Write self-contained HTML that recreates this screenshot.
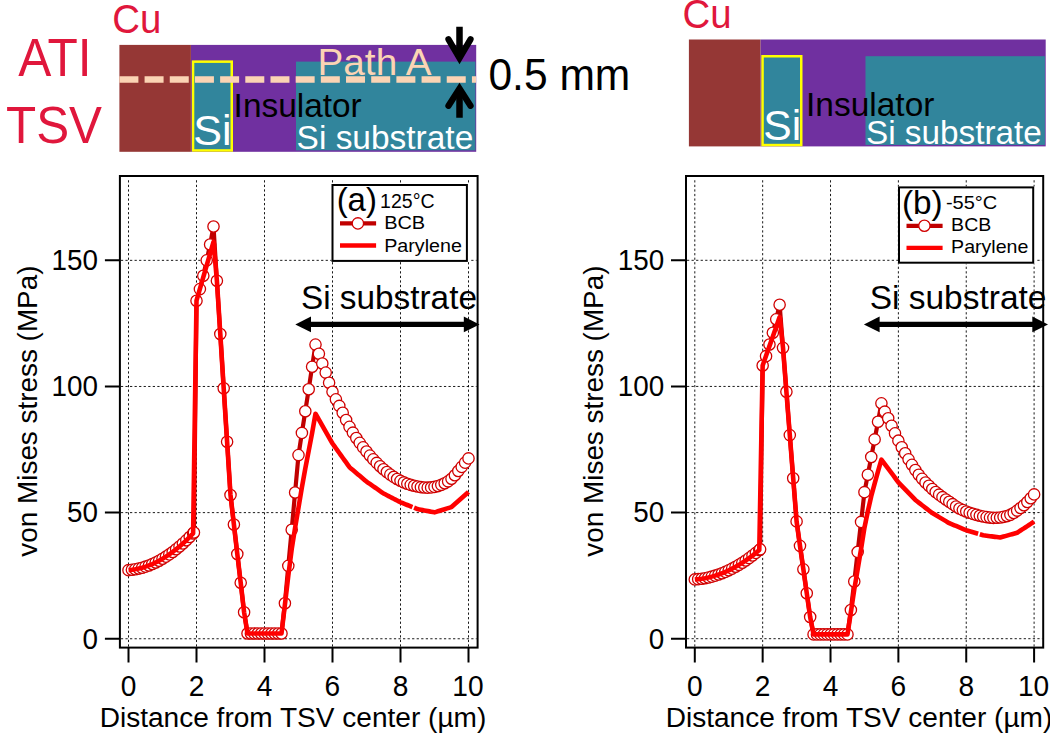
<!DOCTYPE html>
<html><head><meta charset="utf-8"><style>
html,body{margin:0;padding:0;background:#fff;width:1050px;height:737px;overflow:hidden}
svg{display:block}
text{font-family:"Liberation Sans", sans-serif}
</style></head><body>
<svg width="1050" height="737" viewBox="0 0 1050 737" font-family='"Liberation Sans", sans-serif'>
<rect x="190.9" y="44.9" width="285.3" height="106.9" fill="#7030a0"/>
<rect x="296.0" y="61.6" width="179.4" height="88.7" fill="#31859c"/>
<rect x="119.4" y="44.9" width="71.5" height="106.9" fill="#953735"/>
<rect x="193.05" y="61.65" width="38.7" height="88.8" fill="#31859c" stroke="#ffff00" stroke-width="2.5"/>
<rect x="760.4" y="39.5" width="285.3" height="106.9" fill="#7030a0"/>
<rect x="865.5" y="56.2" width="179.4" height="88.7" fill="#31859c"/>
<rect x="688.9" y="39.5" width="71.5" height="106.9" fill="#953735"/>
<rect x="762.55" y="56.25" width="38.7" height="88.8" fill="#31859c" stroke="#ffff00" stroke-width="2.5"/>
<line x1="119.4" x2="476" y1="79.45" y2="79.45" stroke="#fbd4b4" stroke-width="6.4" stroke-dasharray="19 6.18"/>
<text transform="translate(18.18 76.4) scale(0.9292 1)" font-size="53.38" fill="#e0173c">ATI</text>
<text transform="translate(5.99 143.48) scale(0.9444 1)" font-size="52.3" fill="#e0173c">TSV</text>
<text transform="translate(112.18 33.0) scale(0.9558 1)" font-size="40.14" fill="#e0173c">Cu</text>
<text transform="translate(682.48 27.6) scale(0.9558 1)" font-size="40.14" fill="#e0173c">Cu</text>
<text transform="translate(317.5 74.63) scale(1.0431 1)" font-size="37.14" fill="#fbd4b4">Path A</text>
<text transform="translate(233.61 116.57) scale(1.0272 1)" font-size="32.52" fill="#000">Insulator</text>
<text transform="translate(806.0 116.27) scale(1.0305 1)" font-size="32.52" fill="#000">Insulator</text>
<text transform="translate(193.26 145.37) scale(1.0116 1)" font-size="42.72" fill="#fff">Si</text>
<text transform="translate(763.28 140.07) scale(0.9901 1)" font-size="43.13" fill="#fff">Si</text>
<text transform="translate(296.59 149.27) scale(1.0166 1)" font-size="32.93" fill="#fff">Si substrate</text>
<text transform="translate(866.0 143.57) scale(1.0036 1)" font-size="33.2" fill="#fff">Si substrate</text>
<text transform="translate(488.4 89.56) scale(0.9654 1)" font-size="44.1" fill="#000">0.5 mm</text>
<path d="M448.5 39.3L459.5 58.1L470.5 39.3M448.5 105.8L459.5 88.6L470.5 105.8" stroke="#000" stroke-width="6.3" stroke-linecap="round" stroke-linejoin="miter" stroke-miterlimit="10" fill="none"/>
<path d="M459.5 26.8V56M459.5 117.7V91" stroke="#000" stroke-width="6.5" stroke-linecap="butt" fill="none"/>
<path d="M128.5 646.6V178.0M196.5 646.6V178.0M264.5 646.6V178.0M332.5 646.6V178.0M400.5 646.6V178.0M468.5 646.6V178.0" stroke="#000" stroke-width="0.9" stroke-dasharray="2.25 2.3" fill="none"/>
<path d="M120.9 638.75H476.6M120.9 512.62H476.6M120.9 386.48H476.6M120.9 260.35H476.6" stroke="#000" stroke-width="0.9" stroke-dasharray="2.25 2.3" fill="none"/>
<polyline points="128.5,570.13 131.9,569.79 135.3,569.27 138.7,568.58 142.1,567.71 145.5,566.66 148.9,565.44 152.3,564.04 155.7,562.46 159.1,560.71 162.5,558.78 165.9,556.67 169.3,554.39 172.7,551.93 176.1,549.3 179.5,546.48 182.9,543.49 186.3,540.33 189.7,536.98 193.1,533.47 193.95,532.56 196.5,300.71 199.9,289.1 203.3,275.73 206.7,260.35 210.1,244.45 213.5,226.54 216.9,280.78 220.3,334.01 223.7,388.25 227.1,441.73 230.5,494.96 233.9,524.47 237.3,553.99 240.7,582.75 244.1,612.26 247.5,633.45 250.9,633.45 254.3,633.45 257.7,633.45 261.1,633.45 264.5,633.45 267.9,633.45 271.3,633.45 274.7,633.45 278.1,633.45 281.5,633.45 284.9,603.18 288.3,565.84 291.7,529.77 295.1,492.43 298.5,455.1 301.9,432.9 305.3,411.2 308.7,389.25 312.1,366.8 315.5,344.6 318.9,353.68 322.3,363.52 325.7,372.61 329.1,382.7 332.5,391.78 335.9,399.35 339.3,405.9 342.7,412.72 346.1,420.03 349.5,426.84 352.9,432.66 356.3,437.96 359.7,442.87 363.1,447.36 366.5,451.57 369.9,455.58 373.3,459.36 376.7,462.89 380.1,466.18 383.5,469.22 386.9,472.03 390.3,474.59 393.7,476.92 397.1,479.0 400.5,480.83 403.9,482.39 407.3,483.73 410.7,484.87 414.1,485.81 417.5,486.56 420.9,487.14 424.3,487.53 427.7,487.64 431.1,487.42 434.5,486.88 437.9,486.08 441.3,484.87 444.7,483.28 448.1,481.37 451.5,478.81 454.9,475.26 458.3,471.07 461.7,466.9 465.1,462.65 468.5,458.38" fill="none" stroke="#c00000" stroke-width="4.2" stroke-linejoin="round"/>
<g fill="#fff" stroke="#d00000" stroke-width="1.3"><circle cx="128.5" cy="570.13" r="5.65"/><circle cx="131.9" cy="569.79" r="5.65"/><circle cx="135.3" cy="569.27" r="5.65"/><circle cx="138.7" cy="568.58" r="5.65"/><circle cx="142.1" cy="567.71" r="5.65"/><circle cx="145.5" cy="566.66" r="5.65"/><circle cx="148.9" cy="565.44" r="5.65"/><circle cx="152.3" cy="564.04" r="5.65"/><circle cx="155.7" cy="562.46" r="5.65"/><circle cx="159.1" cy="560.71" r="5.65"/><circle cx="162.5" cy="558.78" r="5.65"/><circle cx="165.9" cy="556.67" r="5.65"/><circle cx="169.3" cy="554.39" r="5.65"/><circle cx="172.7" cy="551.93" r="5.65"/><circle cx="176.1" cy="549.3" r="5.65"/><circle cx="179.5" cy="546.48" r="5.65"/><circle cx="182.9" cy="543.49" r="5.65"/><circle cx="186.3" cy="540.33" r="5.65"/><circle cx="189.7" cy="536.98" r="5.65"/><circle cx="193.1" cy="533.47" r="5.65"/><circle cx="193.95" cy="532.56" r="5.65"/><circle cx="196.5" cy="300.71" r="5.65"/><circle cx="199.9" cy="289.1" r="5.65"/><circle cx="203.3" cy="275.73" r="5.65"/><circle cx="206.7" cy="260.35" r="5.65"/><circle cx="210.1" cy="244.45" r="5.65"/><circle cx="213.5" cy="226.54" r="5.65"/><circle cx="216.9" cy="280.78" r="5.65"/><circle cx="220.3" cy="334.01" r="5.65"/><circle cx="223.7" cy="388.25" r="5.65"/><circle cx="227.1" cy="441.73" r="5.65"/><circle cx="230.5" cy="494.96" r="5.65"/><circle cx="233.9" cy="524.47" r="5.65"/><circle cx="237.3" cy="553.99" r="5.65"/><circle cx="240.7" cy="582.75" r="5.65"/><circle cx="244.1" cy="612.26" r="5.65"/><circle cx="247.5" cy="633.45" r="5.65"/><circle cx="250.9" cy="633.45" r="5.65"/><circle cx="254.3" cy="633.45" r="5.65"/><circle cx="257.7" cy="633.45" r="5.65"/><circle cx="261.1" cy="633.45" r="5.65"/><circle cx="264.5" cy="633.45" r="5.65"/><circle cx="267.9" cy="633.45" r="5.65"/><circle cx="271.3" cy="633.45" r="5.65"/><circle cx="274.7" cy="633.45" r="5.65"/><circle cx="278.1" cy="633.45" r="5.65"/><circle cx="281.5" cy="633.45" r="5.65"/><circle cx="284.9" cy="603.18" r="5.65"/><circle cx="288.3" cy="565.84" r="5.65"/><circle cx="291.7" cy="529.77" r="5.65"/><circle cx="295.1" cy="492.43" r="5.65"/><circle cx="298.5" cy="455.1" r="5.65"/><circle cx="301.9" cy="432.9" r="5.65"/><circle cx="305.3" cy="411.2" r="5.65"/><circle cx="308.7" cy="389.25" r="5.65"/><circle cx="312.1" cy="366.8" r="5.65"/><circle cx="315.5" cy="344.6" r="5.65"/><circle cx="318.9" cy="353.68" r="5.65"/><circle cx="322.3" cy="363.52" r="5.65"/><circle cx="325.7" cy="372.61" r="5.65"/><circle cx="329.1" cy="382.7" r="5.65"/><circle cx="332.5" cy="391.78" r="5.65"/><circle cx="335.9" cy="399.35" r="5.65"/><circle cx="339.3" cy="405.9" r="5.65"/><circle cx="342.7" cy="412.72" r="5.65"/><circle cx="346.1" cy="420.03" r="5.65"/><circle cx="349.5" cy="426.84" r="5.65"/><circle cx="352.9" cy="432.66" r="5.65"/><circle cx="356.3" cy="437.96" r="5.65"/><circle cx="359.7" cy="442.87" r="5.65"/><circle cx="363.1" cy="447.36" r="5.65"/><circle cx="366.5" cy="451.57" r="5.65"/><circle cx="369.9" cy="455.58" r="5.65"/><circle cx="373.3" cy="459.36" r="5.65"/><circle cx="376.7" cy="462.89" r="5.65"/><circle cx="380.1" cy="466.18" r="5.65"/><circle cx="383.5" cy="469.22" r="5.65"/><circle cx="386.9" cy="472.03" r="5.65"/><circle cx="390.3" cy="474.59" r="5.65"/><circle cx="393.7" cy="476.92" r="5.65"/><circle cx="397.1" cy="479.0" r="5.65"/><circle cx="400.5" cy="480.83" r="5.65"/><circle cx="403.9" cy="482.39" r="5.65"/><circle cx="407.3" cy="483.73" r="5.65"/><circle cx="410.7" cy="484.87" r="5.65"/><circle cx="414.1" cy="485.81" r="5.65"/><circle cx="417.5" cy="486.56" r="5.65"/><circle cx="420.9" cy="487.14" r="5.65"/><circle cx="424.3" cy="487.53" r="5.65"/><circle cx="427.7" cy="487.64" r="5.65"/><circle cx="431.1" cy="487.42" r="5.65"/><circle cx="434.5" cy="486.88" r="5.65"/><circle cx="437.9" cy="486.08" r="5.65"/><circle cx="441.3" cy="484.87" r="5.65"/><circle cx="444.7" cy="483.28" r="5.65"/><circle cx="448.1" cy="481.37" r="5.65"/><circle cx="451.5" cy="478.81" r="5.65"/><circle cx="454.9" cy="475.26" r="5.65"/><circle cx="458.3" cy="471.07" r="5.65"/><circle cx="461.7" cy="466.9" r="5.65"/><circle cx="465.1" cy="462.65" r="5.65"/><circle cx="468.5" cy="458.38" r="5.65"/></g>
<polyline points="128.5,570.13 131.9,569.79 135.3,569.27 138.7,568.58 142.1,567.71 145.5,566.66 148.9,565.44 152.3,564.04 155.7,562.46 159.1,560.71 162.5,558.78 165.9,556.67 169.3,554.39 172.7,551.93 176.1,549.3 179.5,546.48 182.9,543.49 186.3,540.33 189.7,536.98 193.1,533.47 196.5,300.71 199.9,288.95 203.3,277.2 206.7,265.44 210.1,253.69 213.5,241.93 216.9,280.78 220.3,334.01 223.7,388.25 227.1,441.73 230.5,494.96 233.9,524.47 237.3,553.99 240.7,582.75 244.1,612.26 247.5,633.45 250.9,633.45 254.3,633.45 257.7,633.45 261.1,633.45 264.5,633.45 267.9,633.45 271.3,633.45 274.7,633.45 278.1,633.45 281.5,633.45 284.9,604.69 288.3,575.68 291.7,549.19 295.1,527.75 298.5,507.57 301.9,487.39 305.3,468.47 308.7,450.81 312.1,433.15 315.5,413.73 317.2,416.7 318.9,419.68 320.6,422.66 322.3,425.63 324.0,428.61 325.7,431.59 327.4,434.56 329.1,437.54 330.8,440.52 332.5,443.49 334.2,445.86 335.9,448.24 337.6,450.61 339.3,452.98 341.0,455.35 342.7,457.72 344.4,460.09 346.1,462.46 347.8,464.84 349.5,467.21 351.2,468.64 352.9,470.08 354.6,471.52 356.3,472.96 358.0,474.4 359.7,475.83 361.4,477.27 363.1,478.71 364.8,480.15 366.5,481.59 368.2,482.77 369.9,483.96 371.6,485.14 373.3,486.33 375.0,487.51 376.7,488.7 378.4,489.89 380.1,491.07 381.8,492.26 383.5,493.44 385.2,494.33 386.9,495.21 388.6,496.09 390.3,496.97 392.0,497.86 393.7,498.74 395.4,499.62 397.1,500.51 398.8,501.39 400.5,502.27 402.2,502.95 403.9,503.63 405.6,504.32 407.3,505.0 409.0,505.68 410.7,506.36 412.4,507.04" fill="none" stroke="#ff0000" stroke-width="4.6" stroke-linejoin="round"/>
<polyline points="414.1,507.72 415.8,508.4 417.5,509.08 419.2,509.41 420.9,509.74 422.6,510.07 424.3,510.4 426.0,510.72 427.7,511.05 429.4,511.38 431.1,511.71 432.8,512.03 434.5,512.36 436.2,511.83 437.9,511.3 439.6,510.77 441.3,510.24 443.0,509.71 444.7,509.18 446.4,508.65 448.1,508.12 449.8,507.59 451.5,507.07 453.2,505.55 454.9,504.04 456.6,502.52 458.3,501.01 460.0,499.5 461.7,497.98 463.4,496.47 465.1,494.96 466.8,493.44 468.5,491.93" fill="none" stroke="#ff0000" stroke-width="4.6" stroke-linejoin="round"/>
<rect x="119.9" y="176.0" width="357.7" height="471.6" fill="none" stroke="#000" stroke-width="2"/>
<path d="M128.5 647.6V662.6M196.5 647.6V662.6M264.5 647.6V662.6M332.5 647.6V662.6M400.5 647.6V662.6M468.5 647.6V662.6M119.9 638.75H104.9M119.9 512.62H104.9M119.9 386.48H104.9M119.9 260.35H104.9" stroke="#000" stroke-width="2" fill="none"/>
<text transform="translate(120.66 695.51) scale(0.97 1)" font-size="29.0" fill="#000">0</text>
<text transform="translate(188.69 695.8) scale(0.97 1)" font-size="29.0" fill="#000">2</text>
<text transform="translate(256.76 695.8) scale(0.97 1)" font-size="29.0" fill="#000">4</text>
<text transform="translate(324.59 695.51) scale(0.97 1)" font-size="29.0" fill="#000">6</text>
<text transform="translate(392.69 695.51) scale(0.97 1)" font-size="29.0" fill="#000">8</text>
<text transform="translate(452.36 695.51) scale(0.97 1)" font-size="29.0" fill="#000">10</text>
<text transform="translate(82.39 648.62) scale(0.97 1)" font-size="28.7" fill="#000">0</text>
<text transform="translate(66.94 522.48) scale(0.97 1)" font-size="28.7" fill="#000">50</text>
<text transform="translate(51.42 396.35) scale(0.97 1)" font-size="28.7" fill="#000">100</text>
<text transform="translate(51.42 270.21) scale(0.97 1)" font-size="28.7" fill="#000">150</text>
<text transform="translate(36.9 556.64) rotate(-90) scale(0.982 1)" font-size="28.4" fill="#000">von Mises stress (MPa)</text>
<text transform="translate(99.69 726.9) scale(0.988 1)" font-size="28.4" fill="#000">Distance from TSV center (µm)</text>
<path d="M694.8 646.6V178.0M762.66 646.6V178.0M830.52 646.6V178.0M898.38 646.6V178.0M966.24 646.6V178.0M1034.1 646.6V178.0" stroke="#000" stroke-width="0.9" stroke-dasharray="2.25 2.3" fill="none"/>
<path d="M687.0 638.7H1042.2M687.0 512.57H1042.2M687.0 386.43H1042.2M687.0 260.3H1042.2" stroke="#000" stroke-width="0.9" stroke-dasharray="2.25 2.3" fill="none"/>
<polyline points="694.8,579.42 698.19,579.14 701.59,578.73 704.98,578.18 708.37,577.48 711.76,576.64 715.16,575.66 718.55,574.54 721.94,573.28 725.34,571.88 728.73,570.33 732.12,568.65 735.52,566.82 738.91,564.86 742.3,562.75 745.69,560.5 749.09,558.1 752.48,555.57 755.87,552.9 759.27,550.08 760.12,549.36 762.66,365.49 766.05,356.16 769.45,344.55 772.84,332.7 776.23,319.33 779.62,304.69 783.02,347.83 786.41,391.73 789.8,435.12 793.2,478.26 796.59,521.39 799.98,545.86 803.38,569.33 806.77,593.29 810.16,617.0 813.55,634.41 816.95,634.41 820.34,634.41 823.73,634.41 827.13,634.41 830.52,634.41 833.91,634.41 837.31,634.41 840.7,634.41 844.09,634.41 847.48,634.41 850.88,609.94 854.27,581.43 857.66,551.92 861.06,521.9 864.45,492.13 867.84,474.72 871.24,457.07 874.63,439.41 878.02,421.75 881.41,403.33 884.81,411.66 888.2,418.22 891.59,425.78 894.99,433.35 898.38,440.67 901.77,447.23 905.17,453.28 908.56,459.34 911.95,464.83 915.34,470.02 918.74,474.72 922.13,478.83 925.52,482.45 928.92,485.82 932.31,489.0 935.7,491.93 939.1,494.65 942.49,497.14 945.88,499.44 949.27,501.72 952.67,504.13 956.06,506.47 959.45,508.46 962.85,510.12 966.24,511.56 969.63,512.8 973.03,513.87 976.42,514.84 979.81,515.72 983.2,516.49 986.6,517.11 989.99,517.58 993.38,517.84 996.78,517.8 1000.17,517.45 1003.56,516.85 1006.96,516.08 1010.35,514.84 1013.74,512.93 1017.13,510.6 1020.53,508.02 1023.92,505.19 1027.31,501.97 1030.71,498.28 1034.1,494.4" fill="none" stroke="#c00000" stroke-width="4.2" stroke-linejoin="round"/>
<g fill="#fff" stroke="#d00000" stroke-width="1.3"><circle cx="694.8" cy="579.42" r="5.65"/><circle cx="698.19" cy="579.14" r="5.65"/><circle cx="701.59" cy="578.73" r="5.65"/><circle cx="704.98" cy="578.18" r="5.65"/><circle cx="708.37" cy="577.48" r="5.65"/><circle cx="711.76" cy="576.64" r="5.65"/><circle cx="715.16" cy="575.66" r="5.65"/><circle cx="718.55" cy="574.54" r="5.65"/><circle cx="721.94" cy="573.28" r="5.65"/><circle cx="725.34" cy="571.88" r="5.65"/><circle cx="728.73" cy="570.33" r="5.65"/><circle cx="732.12" cy="568.65" r="5.65"/><circle cx="735.52" cy="566.82" r="5.65"/><circle cx="738.91" cy="564.86" r="5.65"/><circle cx="742.3" cy="562.75" r="5.65"/><circle cx="745.69" cy="560.5" r="5.65"/><circle cx="749.09" cy="558.1" r="5.65"/><circle cx="752.48" cy="555.57" r="5.65"/><circle cx="755.87" cy="552.9" r="5.65"/><circle cx="759.27" cy="550.08" r="5.65"/><circle cx="760.12" cy="549.36" r="5.65"/><circle cx="762.66" cy="365.49" r="5.65"/><circle cx="766.05" cy="356.16" r="5.65"/><circle cx="769.45" cy="344.55" r="5.65"/><circle cx="772.84" cy="332.7" r="5.65"/><circle cx="776.23" cy="319.33" r="5.65"/><circle cx="779.62" cy="304.69" r="5.65"/><circle cx="783.02" cy="347.83" r="5.65"/><circle cx="786.41" cy="391.73" r="5.65"/><circle cx="789.8" cy="435.12" r="5.65"/><circle cx="793.2" cy="478.26" r="5.65"/><circle cx="796.59" cy="521.39" r="5.65"/><circle cx="799.98" cy="545.86" r="5.65"/><circle cx="803.38" cy="569.33" r="5.65"/><circle cx="806.77" cy="593.29" r="5.65"/><circle cx="810.16" cy="617.0" r="5.65"/><circle cx="813.55" cy="634.41" r="5.65"/><circle cx="816.95" cy="634.41" r="5.65"/><circle cx="820.34" cy="634.41" r="5.65"/><circle cx="823.73" cy="634.41" r="5.65"/><circle cx="827.13" cy="634.41" r="5.65"/><circle cx="830.52" cy="634.41" r="5.65"/><circle cx="833.91" cy="634.41" r="5.65"/><circle cx="837.31" cy="634.41" r="5.65"/><circle cx="840.7" cy="634.41" r="5.65"/><circle cx="844.09" cy="634.41" r="5.65"/><circle cx="847.48" cy="634.41" r="5.65"/><circle cx="850.88" cy="609.94" r="5.65"/><circle cx="854.27" cy="581.43" r="5.65"/><circle cx="857.66" cy="551.92" r="5.65"/><circle cx="861.06" cy="521.9" r="5.65"/><circle cx="864.45" cy="492.13" r="5.65"/><circle cx="867.84" cy="474.72" r="5.65"/><circle cx="871.24" cy="457.07" r="5.65"/><circle cx="874.63" cy="439.41" r="5.65"/><circle cx="878.02" cy="421.75" r="5.65"/><circle cx="881.41" cy="403.33" r="5.65"/><circle cx="884.81" cy="411.66" r="5.65"/><circle cx="888.2" cy="418.22" r="5.65"/><circle cx="891.59" cy="425.78" r="5.65"/><circle cx="894.99" cy="433.35" r="5.65"/><circle cx="898.38" cy="440.67" r="5.65"/><circle cx="901.77" cy="447.23" r="5.65"/><circle cx="905.17" cy="453.28" r="5.65"/><circle cx="908.56" cy="459.34" r="5.65"/><circle cx="911.95" cy="464.83" r="5.65"/><circle cx="915.34" cy="470.02" r="5.65"/><circle cx="918.74" cy="474.72" r="5.65"/><circle cx="922.13" cy="478.83" r="5.65"/><circle cx="925.52" cy="482.45" r="5.65"/><circle cx="928.92" cy="485.82" r="5.65"/><circle cx="932.31" cy="489.0" r="5.65"/><circle cx="935.7" cy="491.93" r="5.65"/><circle cx="939.1" cy="494.65" r="5.65"/><circle cx="942.49" cy="497.14" r="5.65"/><circle cx="945.88" cy="499.44" r="5.65"/><circle cx="949.27" cy="501.72" r="5.65"/><circle cx="952.67" cy="504.13" r="5.65"/><circle cx="956.06" cy="506.47" r="5.65"/><circle cx="959.45" cy="508.46" r="5.65"/><circle cx="962.85" cy="510.12" r="5.65"/><circle cx="966.24" cy="511.56" r="5.65"/><circle cx="969.63" cy="512.8" r="5.65"/><circle cx="973.03" cy="513.87" r="5.65"/><circle cx="976.42" cy="514.84" r="5.65"/><circle cx="979.81" cy="515.72" r="5.65"/><circle cx="983.2" cy="516.49" r="5.65"/><circle cx="986.6" cy="517.11" r="5.65"/><circle cx="989.99" cy="517.58" r="5.65"/><circle cx="993.38" cy="517.84" r="5.65"/><circle cx="996.78" cy="517.8" r="5.65"/><circle cx="1000.17" cy="517.45" r="5.65"/><circle cx="1003.56" cy="516.85" r="5.65"/><circle cx="1006.96" cy="516.08" r="5.65"/><circle cx="1010.35" cy="514.84" r="5.65"/><circle cx="1013.74" cy="512.93" r="5.65"/><circle cx="1017.13" cy="510.6" r="5.65"/><circle cx="1020.53" cy="508.02" r="5.65"/><circle cx="1023.92" cy="505.19" r="5.65"/><circle cx="1027.31" cy="501.97" r="5.65"/><circle cx="1030.71" cy="498.28" r="5.65"/><circle cx="1034.1" cy="494.4" r="5.65"/></g>
<polyline points="694.8,579.42 698.19,579.14 701.59,578.73 704.98,578.18 708.37,577.48 711.76,576.64 715.16,575.66 718.55,574.54 721.94,573.28 725.34,571.88 728.73,570.33 732.12,568.65 735.52,566.82 738.91,564.86 742.3,562.75 745.69,560.5 749.09,558.1 752.48,555.57 755.87,552.9 759.27,550.08 762.66,365.49 766.05,355.8 769.45,346.12 772.84,336.43 776.23,326.74 779.62,317.06 783.02,347.83 786.41,391.73 789.8,435.12 793.2,478.26 796.59,521.39 799.98,545.86 803.38,569.33 806.77,593.29 810.16,617.0 813.55,634.41 816.95,634.41 820.34,634.41 823.73,634.41 827.13,634.41 830.52,634.41 833.91,634.41 837.31,634.41 840.7,634.41 844.09,634.41 847.48,634.41 850.88,612.21 854.27,589.51 857.66,569.33 861.06,549.14 864.45,527.7 867.84,511.3 871.24,496.17 874.63,483.55 878.02,471.44 881.41,459.59 883.11,461.86 884.81,464.13 886.5,466.4 888.2,468.67 889.9,470.94 891.59,473.21 893.29,475.48 894.99,477.75 896.68,480.02 898.38,482.29 900.08,484.06 901.77,485.82 903.47,487.59 905.17,489.36 906.86,491.12 908.56,492.89 910.26,494.65 911.95,496.42 913.65,498.19 915.34,499.95 917.04,501.26 918.74,502.58 920.43,503.89 922.13,505.2 923.83,506.51 925.52,507.82 927.22,509.13 928.92,510.45 930.61,511.76 932.31,513.07 934.01,514.08 935.7,515.09 937.4,516.1 939.1,517.11 940.79,518.11 942.49,519.12 944.19,520.13 945.88,521.14 947.58,522.15 949.27,523.16 950.97,523.87 952.67,524.57 954.36,525.28 956.06,525.99 957.76,526.69 959.45,527.4 961.15,528.1 962.85,528.81 964.54,529.52 966.24,530.22 967.94,530.73 969.63,531.23 971.33,531.74 973.03,532.24 974.72,532.75 976.42,533.25 978.12,533.76" fill="none" stroke="#ff0000" stroke-width="4.6" stroke-linejoin="round"/>
<polyline points="979.81,534.26 981.51,534.76 983.2,535.27 984.9,535.5 986.6,535.72 988.29,535.95 989.99,536.18 991.69,536.4 993.38,536.63 995.08,536.86 996.78,537.09 998.47,537.31 1000.17,537.54 1001.87,537.06 1003.56,536.58 1005.26,536.1 1006.96,535.62 1008.65,535.14 1010.35,534.66 1012.05,534.18 1013.74,533.71 1015.44,533.23 1017.13,532.75 1018.83,531.64 1020.53,530.53 1022.22,529.42 1023.92,528.31 1025.62,527.2 1027.31,526.09 1029.01,524.98 1030.71,523.87 1032.4,522.76 1034.1,521.65" fill="none" stroke="#ff0000" stroke-width="4.6" stroke-linejoin="round"/>
<rect x="686.0" y="176.0" width="357.2" height="471.6" fill="none" stroke="#000" stroke-width="2"/>
<path d="M694.8 647.6V662.6M762.66 647.6V662.6M830.52 647.6V662.6M898.38 647.6V662.6M966.24 647.6V662.6M1034.1 647.6V662.6M686.0 638.7H671.0M686.0 512.57H671.0M686.0 386.43H671.0M686.0 260.3H671.0" stroke="#000" stroke-width="2" fill="none"/>
<text transform="translate(686.96 695.51) scale(0.97 1)" font-size="29.0" fill="#000">0</text>
<text transform="translate(754.85 695.8) scale(0.97 1)" font-size="29.0" fill="#000">2</text>
<text transform="translate(822.78 695.8) scale(0.97 1)" font-size="29.0" fill="#000">4</text>
<text transform="translate(890.47 695.51) scale(0.97 1)" font-size="29.0" fill="#000">6</text>
<text transform="translate(958.43 695.51) scale(0.97 1)" font-size="29.0" fill="#000">8</text>
<text transform="translate(1017.96 695.51) scale(0.97 1)" font-size="29.0" fill="#000">10</text>
<text transform="translate(648.69 648.57) scale(0.97 1)" font-size="28.7" fill="#000">0</text>
<text transform="translate(633.24 522.43) scale(0.97 1)" font-size="28.7" fill="#000">50</text>
<text transform="translate(617.72 396.3) scale(0.97 1)" font-size="28.7" fill="#000">100</text>
<text transform="translate(617.72 270.16) scale(0.97 1)" font-size="28.7" fill="#000">150</text>
<text transform="translate(603.2 556.64) rotate(-90) scale(0.982 1)" font-size="28.4" fill="#000">von Mises stress (MPa)</text>
<text transform="translate(665.69 726.9) scale(0.988 1)" font-size="28.4" fill="#000">Distance from TSV center (µm)</text>
<rect x="331.5" y="184.0" width="137.9" height="77.9" fill="#fff"/>
<rect x="332.5" y="185.0" width="134.4" height="75.9" fill="none" stroke="#000" stroke-width="2"/>
<line x1="340.0" x2="376.1" y1="223.4" y2="223.4" stroke="#c00000" stroke-width="4.3"/>
<circle cx="357.9" cy="223.4" r="5.65" fill="#fff" stroke="#d00000" stroke-width="1.3"/>
<line x1="340.0" x2="376.1" y1="245.5" y2="245.5" stroke="#ff0000" stroke-width="4.3"/>
<text transform="translate(336.64 211.2) scale(0.9922 1)" font-size="33.24" fill="#000">(a)</text>
<text transform="translate(380.03 208.1) scale(1.0024 1)" font-size="19.51" fill="#000">125°C</text>
<text transform="translate(384.15 229.31) scale(1.0625 1)" font-size="18.8" fill="#000">BCB</text>
<text transform="translate(384.17 251.7) scale(1.0665 1)" font-size="18.48" fill="#000">Parylene</text>
<rect x="898.0" y="186.4" width="137.7" height="77.3" fill="#fff"/>
<rect x="899.0" y="187.4" width="134.2" height="75.3" fill="none" stroke="#000" stroke-width="2"/>
<line x1="906.5" x2="942.6" y1="225.8" y2="225.8" stroke="#c00000" stroke-width="4.3"/>
<circle cx="924.4" cy="225.8" r="5.65" fill="#fff" stroke="#d00000" stroke-width="1.3"/>
<line x1="906.5" x2="942.6" y1="247.9" y2="247.9" stroke="#ff0000" stroke-width="4.3"/>
<text transform="translate(901.92 214.21) scale(0.9904 1)" font-size="33.67" fill="#000">(b)</text>
<text transform="translate(945.9 208.61) scale(1.057 1)" font-size="18.94" fill="#000">-55°C</text>
<text transform="translate(951.09 231.42) scale(1.081 1)" font-size="18.09" fill="#000">BCB</text>
<text transform="translate(951.08 253.4) scale(1.0769 1)" font-size="18.21" fill="#000">Parylene</text>
<text transform="translate(300.9 308.66) scale(0.9886 1)" font-size="33.74" fill="#000">Si substrate</text>
<text transform="translate(869.69 308.66) scale(0.9846 1)" font-size="34.01" fill="#000">Si substrate</text>
<line x1="307.3" x2="467.5" y1="324.4" y2="324.4" stroke="#000" stroke-width="5.2"/>
<path d="M295.3 324.4L311.0 316.5V332.3Z" fill="#000"/>
<path d="M479.5 324.4L463.8 316.5V332.3Z" fill="#000"/>
<line x1="875.9" x2="1036.0" y1="324.4" y2="324.4" stroke="#000" stroke-width="5.2"/>
<path d="M863.9 324.4L879.6 316.5V332.3Z" fill="#000"/>
<path d="M1048.0 324.4L1032.3 316.5V332.3Z" fill="#000"/>
</svg>
</body></html>
